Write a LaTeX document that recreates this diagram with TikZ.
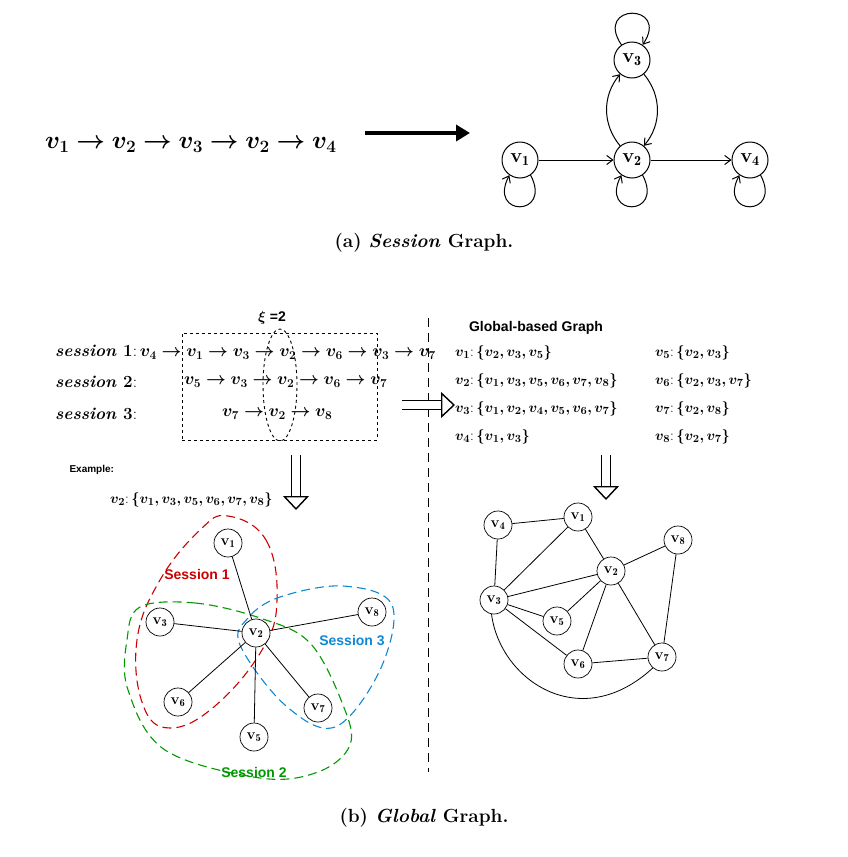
\documentclass[tikz,border=0pt]{standalone}
\usepackage{amsmath,bm}
\usepackage{fontspec}
\newfontfamily\sansf{Liberation Sans}
\usetikzlibrary{arrows.meta,shapes.geometric}
\begin{document}
\begin{tikzpicture}[x=1pt,y=-1pt,
  sg/.style={circle,draw,line width=1pt,minimum size=36pt,inner sep=0pt,font=\fontsize{20}{22}\selectfont\bfseries},
  gn/.style={circle,draw,line width=0.7pt,minimum size=28pt,inner sep=0pt,fill=white,font=\fontsize{15}{16}\selectfont\bfseries},
  ar/.style={-{Straight Barb[length=6pt,width=9pt]},line width=1pt},
  txt/.style={font=\fontsize{17}{19}\selectfont,anchor=west,inner sep=0pt},
  lst/.style={font=\fontsize{15}{17}\selectfont,anchor=west,inner sep=0pt},
  ses/.style={dashed,dash pattern=on 9pt off 5pt,line width=1.1pt},
  dbl/.style={double distance=8pt,line width=1.4pt,-{Triangle[open,length=14pt,width=26pt,line width=1.4pt]}}]
\useasboundingbox (0,0) rectangle (848,857);
% (a)
\node[anchor=west,inner sep=0pt,font=\fontsize{26}{28}\selectfont] (seq) at (45,145) {$\bm{v_1\rightarrow v_2\rightarrow v_3\rightarrow v_2\rightarrow v_4}$};
\coordinate (ba) at (365,133); \coordinate (bb) at (470,133);
\draw[line width=4pt,-{Triangle[length=14pt,width=16pt]}] (ba) -- (bb);
\node[sg] (a1) at (520,160) {v$_\mathbf{1}$};
\node[sg] (a2) at (632,160) {v$_\mathbf{2}$};
\node[sg] (a3) at (632,60) {v$_\mathbf{3}$};
\node[sg] (a4) at (750,160) {v$_\mathbf{4}$};
\draw[ar] (a1) -- (a2);
\draw[ar] (a2) -- (a4);
\draw[ar] (a3) to[bend left=40] (a2);
\draw[ar] (a2) to[bend left=40] (a3);
\draw[ar] (a3.125) .. controls +(-28,-42) and +(28,-42) .. (a3.55);
\draw[ar] (a1.-55) .. controls +(22,42) and +(-22,42) .. (a1.-125);
\draw[ar] (a2.-55) .. controls +(22,42) and +(-22,42) .. (a2.-125);
\draw[ar] (a4.-55) .. controls +(22,42) and +(-22,42) .. (a4.-125);
\node[font=\fontsize{19}{21}\selectfont\bfseries] (capa) at (424,243) {(a) \textit{Session} Graph.};
% (b) left
\coordinate (vl1) at (428,318); \coordinate (vl2) at (428,772);
\draw[dashed,dash pattern=on 9pt off 6pt,line width=0.9pt] (vl1) -- (vl2);
\node[font=\sansf\fontsize{14}{16}\selectfont\bfseries] (xi) at (272,318) {$\bm\xi$ =2};
\node[draw,dashed,line width=0.9pt,minimum width=195pt,minimum height=107pt,inner sep=0pt] (box) at (279.5,386.5) {};
\node[txt] (s1) at (55,352) {\textbf{\textit{session} 1}:\,$\bm{v_4\rightarrow v_1\rightarrow v_3\rightarrow v_2\rightarrow v_6\rightarrow v_3\rightarrow v_7}$};
\node[txt] (s2) at (55,382) {\textbf{\textit{session} 2}:};
\node[txt] (s2b) at (184,382) {$\bm{v_5\rightarrow v_3\rightarrow v_2\rightarrow v_6\rightarrow v_7}$};
\node[txt] (s3) at (55,414) {\textbf{\textit{session} 3}:};
\node[txt] (s3b) at (222,414) {$\bm{v_7\rightarrow v_2\rightarrow v_8}$};
\node[draw,dashed,ellipse,line width=0.9pt,minimum width=34pt,minimum height=112pt] (el) at (280,385) {};
\coordinate (d1) at (296,455); \coordinate (d2) at (296,510);
\draw[dbl] (d1) -- (d2);
\node[anchor=west,font=\sansf\fontsize{10}{12}\selectfont\bfseries] (ex) at (66,470) {Example:};
\node[lst] (ex2) at (110,500) {$\bm{v_2}$:\,$\bm{\{v_1,v_3,v_5,v_6,v_7,v_8\}}$};
\draw[ses,red!80!black] plot[smooth cycle,tension=0.7] coordinates {(228,516)(266,540)(277,600)(262,650)(215,706)(170,728)(143,705)(137,640)(160,580)(200,530)};
\draw[ses,green!60!black] plot[smooth cycle,tension=0.6] coordinates {(140,607)(195,603)(260,618)(310,643)(343,705)(350,745)(318,772)(260,778)(165,750)(128,690)(127,640)};
\draw[ses,cyan!70!blue] plot[smooth cycle,tension=0.6] coordinates {(280,597)(343,586)(392,605)(380,670)(335,727)(285,705)(240,645)(248,618)};
\node[gn] (b1) at (228,543) {v$_\mathbf{1}$};
\node[gn] (b3) at (160,622) {v$_\mathbf{3}$};
\node[gn] (b2) at (256,633) {v$_\mathbf{2}$};
\node[gn] (b8) at (372,612) {v$_\mathbf{8}$};
\node[gn] (b6) at (178,702) {v$_\mathbf{6}$};
\node[gn] (b5) at (254,737) {v$_\mathbf{5}$};
\node[gn] (b7) at (318,708) {v$_\mathbf{7}$};
\foreach \n in {b1,b3,b8,b6,b5,b7} \draw[line width=0.8pt] (b2) -- (\n);
\node[font=\sansf\fontsize{14}{16}\selectfont\bfseries,text=red!80!black] (l1) at (197,574) {Session 1};
\node[font=\sansf\fontsize{14}{16}\selectfont\bfseries,text=cyan!70!blue] (l3) at (352,640) {Session 3};
\node[font=\sansf\fontsize{14}{16}\selectfont\bfseries,text=green!60!black] (l2) at (254,772) {Session 2};
% (b) right
\coordinate (r1) at (402,405); \coordinate (r2) at (455,405);
\draw[dbl] (r1) -- (r2);
\node[font=\sansf\fontsize{14}{16}\selectfont\bfseries] (gt) at (536,328) {Global-based Graph};
\node[lst] (g1) at (455,353) {$\bm{v_1}$:\,$\bm{\{v_2,v_3,v_5\}}$};
\node[lst] (g2) at (455,381) {$\bm{v_2}$:\,$\bm{\{v_1,v_3,v_5,v_6,v_7,v_8\}}$};
\node[lst] (g3) at (455,409) {$\bm{v_3}$:\,$\bm{\{v_1,v_2,v_4,v_5,v_6,v_7\}}$};
\node[lst] (g4) at (455,437) {$\bm{v_4}$:\,$\bm{\{v_1,v_3\}}$};
\node[lst] (g5) at (655,353) {$\bm{v_5}$:\,$\bm{\{v_2,v_3\}}$};
\node[lst] (g6) at (655,381) {$\bm{v_6}$:\,$\bm{\{v_2,v_3,v_7\}}$};
\node[lst] (g7) at (655,409) {$\bm{v_7}$:\,$\bm{\{v_2,v_8\}}$};
\node[lst] (g8) at (655,437) {$\bm{v_8}$:\,$\bm{\{v_2,v_7\}}$};
\coordinate (e1) at (606,455); \coordinate (e2) at (606,500);
\draw[dbl] (e1) -- (e2);
\node[gn] (c4) at (498,525) {v$_\mathbf{4}$};
\node[gn] (c1) at (578,517) {v$_\mathbf{1}$};
\node[gn] (c8) at (678,540) {v$_\mathbf{8}$};
\node[gn] (c2) at (611,571) {v$_\mathbf{2}$};
\node[gn] (c3) at (494,600) {v$_\mathbf{3}$};
\node[gn] (c5) at (557,621) {v$_\mathbf{5}$};
\node[gn] (c6) at (578,664) {v$_\mathbf{6}$};
\node[gn] (c7) at (662,657) {v$_\mathbf{7}$};
\foreach \a/\b in {c4/c1,c4/c3,c1/c3,c1/c2,c2/c8,c3/c2,c3/c5,c3/c6,c2/c5,c2/c6,c2/c7,c8/c7,c6/c7}
  \draw[line width=0.8pt] (\a) -- (\b);
\draw[line width=0.8pt] (c3.-100) .. controls (500,680) and (580,735) .. (c7.-130);
\node[font=\fontsize{19}{21}\selectfont\bfseries] (capb) at (424,818) {(b) \textit{Global} Graph.};
\end{tikzpicture}
\end{document}
